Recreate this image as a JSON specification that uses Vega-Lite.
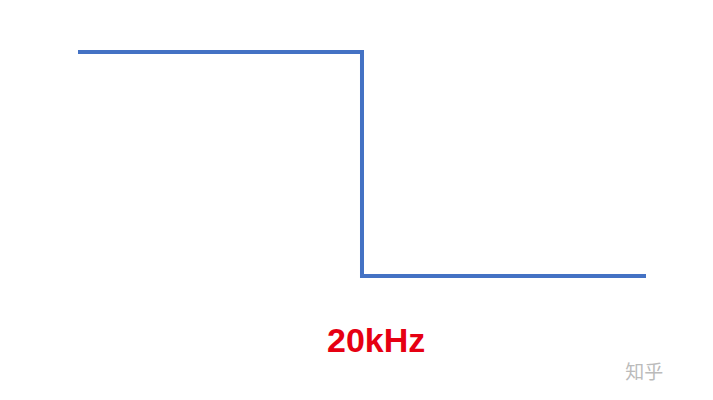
{
  "$schema": "https://vega.github.io/schema/vega-lite/v6.json",
  "width": 713,
  "height": 400,
  "autosize": {"type": "fit", "contains": "padding"},
  "padding": 0,
  "background": "#ffffff",
  "config": {"view": {"stroke": null}},
  "datasets": {
    "response": [
      {"freq": 4, "gain": 1},
      {"freq": 20, "gain": 0},
      {"freq": 36, "gain": 0}
    ],
    "labels": [
      {"freq": 20.8, "gain": -0.339, "text": "20kHz"}
    ],
    "marks": [
      {"freq": 35.9, "gain": -0.433, "text": "知乎"}
    ]
  },
  "encoding": {
    "x": {
      "field": "freq",
      "type": "quantitative",
      "scale": {"domain": [-0.394, 39.775], "nice": false, "zero": false},
      "axis": null
    },
    "y": {
      "field": "gain",
      "type": "quantitative",
      "scale": {"domain": [-0.5536, 1.2321], "nice": false, "zero": false},
      "axis": null
    }
  },
  "layer": [
    {
      "data": {"name": "response"},
      "mark": {
        "type": "line",
        "interpolate": "step-after",
        "color": "#4472C4",
        "strokeWidth": 4,
        "strokeJoin": "miter",
        "strokeCap": "butt"
      }
    },
    {
      "data": {"name": "labels"},
      "mark": {
        "type": "text",
        "color": "#E60012",
        "font": "Liberation Sans",
        "fontSize": 34,
        "fontWeight": "bold",
        "align": "center",
        "baseline": "alphabetic"
      },
      "encoding": {"text": {"field": "text"}}
    },
    {
      "data": {"name": "marks"},
      "mark": {
        "type": "text",
        "color": "#BBBBBB",
        "font": "Noto Sans CJK SC",
        "fontSize": 19,
        "align": "center",
        "baseline": "middle"
      },
      "encoding": {"text": {"field": "text"}}
    }
  ]
}
